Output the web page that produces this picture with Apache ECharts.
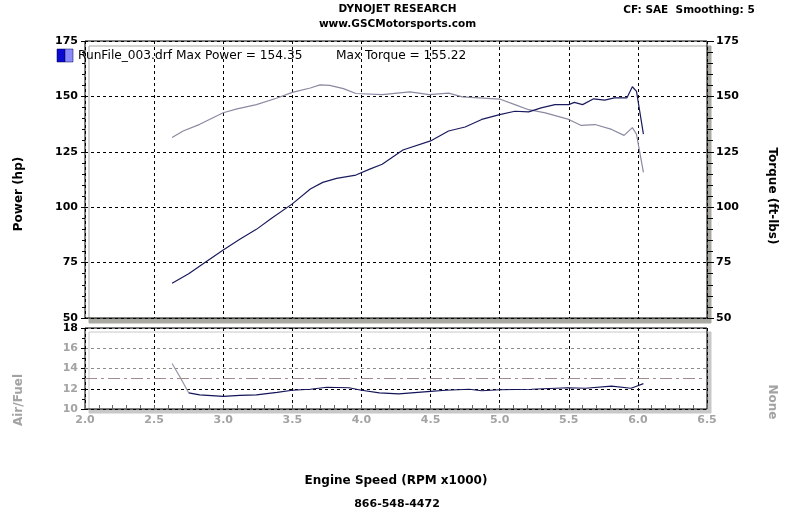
<!DOCTYPE html>
<html>
<head>
<meta charset="utf-8">
<script src="https://cdn.jsdelivr.net/npm/echarts@6/dist/echarts.min.js"></script>
<style>
html,body{margin:0;padding:0;background:#fff;}
#chart{width:795px;height:517px;}
</style>
</head>
<body>
<div id="chart"></div>
<script>
// ---- data ----
const powerRpm = [2.63, 2.75, 2.86, 3.0, 3.12, 3.24, 3.35, 3.5, 3.63, 3.72, 3.82, 3.96, 4.06, 4.15, 4.3, 4.5, 4.63, 4.75, 4.87, 5.0, 5.11, 5.21, 5.3, 5.4, 5.5, 5.54, 5.6, 5.68, 5.76, 5.83, 5.92, 5.96, 5.99, 6.04];
const powerHp = [65.7, 70, 74.7, 80.7, 85.5, 90, 95, 101.5, 108.2, 111.2, 113, 114.5, 117.2, 119.4, 125.8, 129.9, 134.4, 136.2, 139.6, 141.8, 143.3, 143, 144.8, 146.3, 146.3, 147.3, 146.3, 148.9, 148.3, 149.3, 149.3, 154.35, 152.3, 133];

const torqueRpm = [2.63, 2.71, 2.83, 3.0, 3.1, 3.24, 3.39, 3.5, 3.63, 3.7, 3.77, 3.87, 3.96, 4.15, 4.35, 4.49, 4.63, 4.73, 5.0, 5.11, 5.21, 5.33, 5.5, 5.59, 5.69, 5.81, 5.9, 5.96, 5.99, 6.04];
const torqueFtlb = [131.5, 134.4, 137.4, 142.6, 144.4, 146.3, 149.3, 151.8, 153.8, 155.22, 155, 153.5, 151.3, 150.8, 152, 150.8, 151.5, 149.8, 148.8, 146.3, 144, 142.6, 139.6, 136.9, 137.3, 135.1, 132.4, 135.9, 132.9, 115.7];

const afrRpm = [2.63, 2.69, 2.75, 2.83, 3.0, 3.12, 3.24, 3.39, 3.5, 3.63, 3.75, 3.91, 4.0, 4.13, 4.27, 4.5, 4.61, 4.78, 4.87, 5.0, 5.23, 5.49, 5.62, 5.81, 5.95, 5.99, 6.04];
const afrVal = [14.5, 13.1, 11.6, 11.4, 11.25, 11.35, 11.4, 11.65, 11.85, 11.95, 12.15, 12.1, 11.85, 11.6, 11.5, 11.75, 11.85, 11.95, 11.8, 11.9, 11.95, 12.1, 12.05, 12.25, 12.05, 12.25, 12.5];
const afrGrayUntil = 2.75;   // first part of the AFR trace is drawn in grey

const afrTarget = 13;
const rpmRange = [2.0, 6.5];
const mainRange = [50, 175];
const afrRange = [10, 18];

const titleText = 'DYNOJET RESEARCH';
const subTitleText = 'www.GSCMotorsports.com';
const cfText = 'CF: SAE  Smoothing: 5';
const runName = 'RunFile_003.drf';
const xTitle = 'Engine Speed (RPM x1000)';
const phoneText = '866-548-4472';

// ---- build ----
const zip = (a, b) => a.map((v, i) => [v, b[i]]);
const afrAll = zip(afrRpm, afrVal);
const afrHead = afrAll.filter(p => p[0] <= afrGrayUntil);
const afrTail = afrAll.filter(p => p[0] >= afrGrayUntil);
const maxPower = Math.max(...powerHp).toFixed(2);
const maxTorque = Math.max(...torqueFtlb).toFixed(2);

const FONT = '"DejaVu Sans", Verdana, sans-serif';
const GRAY = '#a3a3a3';
const dash = [3, 3];

const chart = echarts.init(document.getElementById('chart'), null, {renderer: 'canvas'});

const option = {
  backgroundColor: '#fff',
  animation: false,
  grid: [
    {left: 85, top: 41, width: 622, height: 277, show: true, backgroundColor: '#fff',
     borderColor: '#000', borderWidth: 1,
     shadowColor: '#a9a9a1', shadowBlur: 0, shadowOffsetX: 4, shadowOffsetY: 5},
    {left: 85, top: 328, width: 622, height: 81, show: true, backgroundColor: '#fff',
     borderColor: '#000', borderWidth: 1,
     shadowColor: '#c8c8c8', shadowBlur: 0, shadowOffsetX: 4, shadowOffsetY: 4}
  ],
  xAxis: [
    {gridIndex: 0, type: 'value', min: rpmRange[0], max: rpmRange[1], interval: 0.5,
     axisLine: {show: false}, axisTick: {show: false}, axisLabel: {show: false},
     splitLine: {show: true, lineStyle: {color: '#000', type: dash, width: 1}}},
    {gridIndex: 1, type: 'value', min: rpmRange[0], max: rpmRange[1], interval: 0.5,
     axisLine: {show: false},
     axisTick: {show: true, inside: true, length: 4, lineStyle: {color: '#666'}},
     minorTick: {show: true, splitNumber: 5, length: 4, lineStyle: {color: '#666'}},
     axisLabel: {show: true, color: GRAY, fontFamily: FONT, fontWeight: 'bold', fontSize: 11, margin: 6,
                 formatter: v => v.toFixed(1)},
     splitLine: {show: true, lineStyle: {color: '#000', type: dash, width: 1}}}
  ],
  yAxis: [
    {gridIndex: 0, type: 'value', min: mainRange[0], max: mainRange[1], interval: 25, position: 'left',
     axisLine: {show: false},
     axisTick: {show: true, length: 4, lineStyle: {color: '#000'}},
     minorTick: {show: true, splitNumber: 5, length: 3, lineStyle: {color: '#000'}},
     axisLabel: {color: '#000', fontFamily: FONT, fontWeight: 'bold', fontSize: 11, margin: 7},
     splitLine: {show: true, lineStyle: {color: '#000', type: dash, width: 1}}},
    {gridIndex: 0, type: 'value', min: mainRange[0], max: mainRange[1], interval: 25, position: 'right',
     axisLine: {show: false},
     axisTick: {show: true, length: 7, lineStyle: {color: '#000'}},
     minorTick: {show: true, splitNumber: 5, length: 6, lineStyle: {color: '#000'}},
     axisLabel: {color: '#000', fontFamily: FONT, fontWeight: 'bold', fontSize: 11, margin: 9},
     splitLine: {show: false}},
    {gridIndex: 1, type: 'value', min: afrRange[0], max: afrRange[1], interval: 2, position: 'left',
     axisLine: {show: false},
     axisTick: {show: true, length: 4, lineStyle: {color: '#000'}},
     minorTick: {show: true, splitNumber: 2, length: 3, lineStyle: {color: '#000'}},
     axisLabel: {fontFamily: FONT, fontWeight: 'bold', fontSize: 11, margin: 7,
                 color: v => (Number(v) === afrRange[1] ? '#000' : GRAY)},
     splitLine: {show: true, lineStyle: {color: ['#000', '#000', '#8c8c8c', '#8c8c8c', '#000'], type: dash, width: 1}}},
    {gridIndex: 1, type: 'value', min: afrRange[0], max: afrRange[1], interval: 2, position: 'right',
     axisLine: {show: false}, axisTick: {show: false}, axisLabel: {show: false}, splitLine: {show: false}}
  ],
  series: [
    {name: 'Power', type: 'line', xAxisIndex: 0, yAxisIndex: 0, data: zip(powerRpm, powerHp),
     showSymbol: false, lineStyle: {color: '#1a1a5e', width: 1.2}, z: 4},
    {name: 'Torque', type: 'line', xAxisIndex: 0, yAxisIndex: 1, data: zip(torqueRpm, torqueFtlb),
     showSymbol: false, lineStyle: {color: '#8a8aa2', width: 1.2}, z: 3},
    {name: 'Air/Fuel start', type: 'line', xAxisIndex: 1, yAxisIndex: 2, data: afrHead,
     showSymbol: false, lineStyle: {color: '#9a9aaa', width: 1.2}, z: 4},
    {name: 'Air/Fuel', type: 'line', xAxisIndex: 1, yAxisIndex: 2, data: afrTail,
     showSymbol: false, lineStyle: {color: '#14145a', width: 1.2}, z: 4,
     markLine: {silent: true, symbol: 'none', label: {show: false},
       lineStyle: {color: '#a38c8c', type: [12, 4, 3, 4], width: 1},
       data: [{yAxis: afrTarget}]}}
  ],
  graphic: [
    {type: 'text', left: 'center', top: 4, style: {text: titleText, font: 'bold 10.5px ' + FONT, fill: '#000'}},
    {type: 'text', left: 'center', top: 19, style: {text: subTitleText, font: 'bold 10.5px ' + FONT, fill: '#000'}},
    {type: 'text', x: 689, y: 10.5, style: {text: cfText, font: 'bold 10.5px ' + FONT, fill: '#000', align: 'center', verticalAlign: 'middle'}},
    {type: 'rect', shape: {x: 57, y: 49, width: 8, height: 13}, style: {fill: '#0a0ad0', stroke: '#000050', lineWidth: 0.5}, z: 100},
    {type: 'rect', shape: {x: 65, y: 49, width: 8, height: 13}, style: {fill: '#8a8aff', stroke: '#000050', lineWidth: 0.5}, z: 100},
    {type: 'text', x: 78, y: 56, z: 100, style: {text: runName + ' Max Power = ' + maxPower, font: '12.2px ' + FONT, fill: '#000', verticalAlign: 'middle'}},
    {type: 'text', x: 336, y: 56, z: 100, style: {text: 'Max Torque = ' + maxTorque, font: '12.2px ' + FONT, fill: '#000', verticalAlign: 'middle'}},
    {type: 'text', x: 19, y: 194, rotation: Math.PI / 2, style: {text: 'Power (hp)', font: 'bold 12px ' + FONT, fill: '#000', align: 'center', verticalAlign: 'middle'}},
    {type: 'text', x: 772, y: 196, rotation: -Math.PI / 2, style: {text: 'Torque (ft-lbs)', font: 'bold 12px ' + FONT, fill: '#000', align: 'center', verticalAlign: 'middle'}},
    {type: 'text', x: 19, y: 400, rotation: Math.PI / 2, style: {text: 'Air/Fuel', font: 'bold 12px ' + FONT, fill: GRAY, align: 'center', verticalAlign: 'middle'}},
    {type: 'text', x: 772, y: 402, rotation: -Math.PI / 2, style: {text: 'None', font: 'bold 12px ' + FONT, fill: GRAY, align: 'center', verticalAlign: 'middle'}},
    {type: 'text', x: 396, y: 481, style: {text: xTitle, font: 'bold 12px ' + FONT, fill: '#000', align: 'center', verticalAlign: 'middle'}},
    {type: 'text', x: 397, y: 504, style: {text: phoneText, font: 'bold 11px ' + FONT, fill: '#000', align: 'center', verticalAlign: 'middle'}}
  ]
};
chart.setOption(option);
</script>
</body>
</html>
